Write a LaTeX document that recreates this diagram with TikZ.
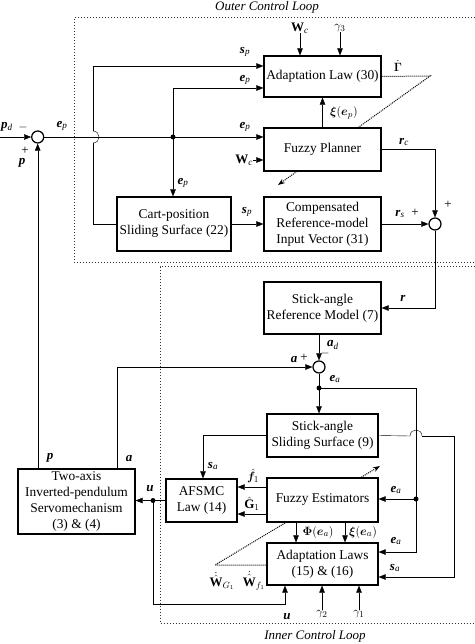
\documentclass[tikz,border=0pt]{standalone}
\usepackage{fontspec}
\setmainfont{Liberation Serif}
\usepackage{amsmath,bm}
\usetikzlibrary{arrows.meta,calc}
\pgfdeclarelayer{bg}
\pgfsetlayers{bg,main}
\newcommand{\bv}[2]{\textbf{\textit{#1}}\textsubscript{\textit{#2}}}
\begin{document}
\begin{tikzpicture}[x=1pt,y=-1pt,line width=1.25pt,
  >={Triangle[length=7pt,width=5.5pt]},
  box/.style={draw,fill=white,align=center,inner sep=0pt,font=\fontsize{13.4}{16}\selectfont},
  sumc/.style={draw,circle,minimum size=12pt,inner sep=0pt,fill=white},
  lab/.style={font=\fontsize{13}{15}\selectfont,inner sep=0pt},
  jdot/.style={circle,fill,inner sep=0pt,minimum size=5pt},
  tune/.style={densely dotted,line width=1pt,-{Stealth[length=7pt,width=5pt]}},
  loopbox/.style={dotted,line width=1pt,draw=black!80},
  title/.style={font=\fontsize{13}{15}\selectfont\itshape}]
\useasboundingbox (0,0) rectangle (474,644);

% blocks
\node[box,minimum width=117pt,minimum height=41pt] (al) at (322.5,76.5) {Adaptation Law (30)};
\node[box,minimum width=117pt,minimum height=43pt] (fp) at (322.5,149.5) {Fuzzy Planner};
\node[box,minimum width=114pt,minimum height=54pt] (cp) at (174,224) {Cart-position\\Sliding Surface (22)};
\node[box,minimum width=117pt,minimum height=54pt] (cr) at (322.5,224) {Compensated\\Reference-model\\Input Vector (31)};
\node[box,minimum width=117pt,minimum height=52pt] (sr) at (322.5,308) {Stick-angle\\Reference Model (7)};
\node[box,minimum width=111pt,minimum height=43pt] (ss) at (322.5,435.5) {Stick-angle\\Sliding Surface (9)};
\node[box,minimum width=117pt,minimum height=65pt] (ta) at (76.5,501.5) {Two-axis\\Inverted-pendulum\\Servomechanism\\(3) \& (4)};
\node[box,minimum width=71pt,minimum height=43pt] (af) at (201.5,500.5) {AFSMC\\Law (14)};
\node[box,minimum width=111pt,minimum height=44pt] (fe) at (322.5,500) {Fuzzy Estimators};
\node[box,minimum width=111pt,minimum height=42pt] (ad) at (322.5,564) {Adaptation Laws\\(15) \& (16)};

% summing junctions
\node[sumc] (s1) at (37.7,137) {};
\node[sumc] (s2) at (435,224) {};
\node[sumc] (s3) at (319,367) {};

% junction points
\coordinate (j1) at (173,137);
\coordinate (j2) at (319,388);
\coordinate (j3) at (416,499);
\coordinate (j4) at (153,500.5);
\coordinate (pd) at (0,137);
\node[jdot] at (j1) {};
\node[jdot] at (j2) {};
\node[jdot] at (j3) {};
\node[jdot] at (j4) {};

% titles and loop boxes
\node[title] (otl) at (267,7) {Outer Control Loop};
\node[title] (itl) at (315,636) {Inner Control Loop};
\begin{pgfonlayer}{bg}
\draw[loopbox] (490,18) -- (74,18) -- (74,262.5) -- (490,262.5);
\draw[loopbox] (490,266.5) -- (160,266.5) -- (160,623) -- (490,623);
\draw[tune] (al.east) -- (430,76) -- (278,185);
\draw[tune] (ad.west |- 0,565) -- (215,565) -- (380,466);
\end{pgfonlayer}

% outer loop connectors
\draw[->] (pd) -- (s1.west);
\draw[->] (s1.east) -- (fp.west |- s1.east);
\draw[->] (j1) |- (al.west |- 0,88);
\draw[->] (j1) -- (j1 |- cp.north);
\draw (cp.west) -- (93,224) -- (93,143);
\draw (93,143) .. controls (101,143) and (101,131) .. (93,131);
\draw[->] (93,131) -- (93,66) -- (al.west |- 0,66);
\node[lab,anchor=east] (wcl) at (253,160) {\textbf{W}\textsubscript{\textit{c}}};
\draw[->] (wcl.east) -- (fp.west |- wcl.east);
\node[lab] (wct) at (300,28) {\textbf{W}\textsubscript{\textit{c}}};
\draw[->] (wct.south) -- (wct |- al.north);
\node[lab] (g3) at (340,28) {$\gamma_3$};
\draw[->] (g3.south) -- (g3 |- al.north);
\draw[->] (fp.north) -- (al.south);
\draw[->] (fp.east) -| (s2.north);
\draw[->] (cp.east) -- (cr.west);
\draw[->] (cr.east) -- (s2.west);
\draw[->] (s2.south) |- (sr.east);
\draw[->] (s3 |- sr.south) -- (s3.north);
\draw[->] (ta.north -| 117,0) |- (s3.west);
\draw[->] (ta.north -| s1) -- (s1.south);

% inner loop connectors
\draw (s3.south) -- (j2);
\draw[->] (j2) -- (j2 |- ss.north);
\draw (j2) -| (j3);
\draw[->] (j3) -- (fe.east |- j3);
\draw[->] (j3) |- (ad.east |- 0,552);
\draw (ss.east) -- (410,436);
\draw (410,436) .. controls (410,428) and (422,428) .. (422,436);
\draw[->] (422,436) -- (454,436) |- (ad.east |- 0,577);
\draw[->] (ss.west) -| (af.north -| 203,0);
\draw[->] (fe.west |- 0,487) -- (af.east |- 0,487);
\draw[->] (fe.west |- 0,514) -- (af.east |- 0,514);
\draw[->] (af.west) -- (ta.east |- af.west);
\draw[->] (j4) |- (285,604) -- (ad.south -| 285,0);
\node[lab] (g2) at (322,614) {$\gamma_2$};
\draw[->] (g2.north) -- (g2 |- ad.south);
\node[lab] (g1) at (359,614) {$\gamma_1$};
\draw[->] (g1.north) -- (g1 |- ad.south);
\draw[->] (fe.south -| 296,0) -- (ad.north -| 296,0);
\draw[->] (fe.south -| 345,0) -- (ad.north -| 345,0);

% labels
\node[lab] at (7,127) {\bv{p}{d}};
\node[lab] at (23,128) {$-$};
\node[lab] at (25,151) {+};
\node[lab] at (22,163) {\textbf{\textit{p}}};
\node[lab] at (62,126) {\bv{e}{p}};
\node[lab] at (245,52) {\bv{s}{p}};
\node[lab] at (245,80) {\bv{e}{p}};
\node[lab] at (245,127) {\bv{e}{p}};
\node[lab] at (183,183) {\bv{e}{p}};
\node[lab,anchor=west] at (330,113) {$\bm{\xi}(\bm{e}_p)$};
\node[lab] at (398,66) {$\dot{\bm{\Gamma}}$};
\node[lab] at (404,142) {\bv{r}{c}};
\node[lab] at (448,205) {+};
\node[lab] at (247,212) {\bv{s}{p}};
\node[lab] at (400,214) {\bv{r}{s}};
\node[lab] at (415,213) {+};
\node[lab] at (403,298) {\textbf{\textit{r}}};
\node[lab] at (333,345) {\bv{a}{d}};
\node[lab] at (325,353) {$-$};
\node[lab] at (294,360) {\textbf{\textit{a}}};
\node[lab] at (304,358) {+};
\node[lab] at (335,379) {\bv{e}{a}};
\node[lab] at (129,459) {\textbf{\textit{a}}};
\node[lab] at (50,458) {\textbf{\textit{p}}};
\node[lab] at (213,466) {\bv{s}{a}};
\node[lab] at (253,476) {$\hat{\bm{f}}_1$};
\node[lab] at (252,504) {$\hat{\mathbf{G}}_1$};
\node[lab] at (150,489) {\textbf{\textit{u}}};
\node[lab] at (396,490) {\bv{e}{a}};
\node[lab] at (396,541) {\bv{e}{a}};
\node[lab] at (395,568) {\bv{s}{a}};
\node[lab] at (318,532) {$\bm{\Phi}(\bm{e}_a)$};
\node[lab] at (363,532) {$\bm{\xi}(\bm{e}_a)$};
\node[lab] at (222,581) {$\dot{\hat{\mathbf{W}}}_{G_1}$};
\node[lab] at (254,581) {$\dot{\hat{\mathbf{W}}}_{f_1}$};
\node[lab] at (287,617) {\textbf{\textit{u}}};
\end{tikzpicture}
\end{document}
